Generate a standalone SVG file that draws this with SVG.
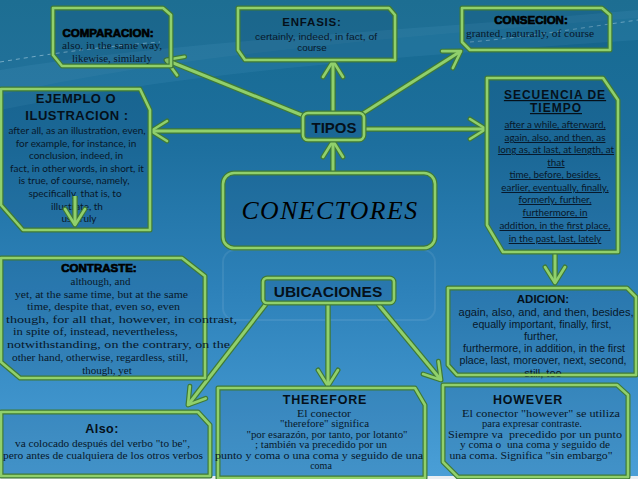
<svg xmlns="http://www.w3.org/2000/svg" width="638" height="479" viewBox="0 0 638 479">
<defs>
<linearGradient id="bg" x1="0" y1="0" x2="0" y2="1">
<stop offset="0" stop-color="#166a8f"/>
<stop offset="0.3" stop-color="#1d6f9e"/>
<stop offset="0.6" stop-color="#2d81b9"/>
<stop offset="1" stop-color="#4a9fd7"/>
</linearGradient>
<marker id="ad" markerUnits="userSpaceOnUse" viewBox="-22 -14 26 28" refX="0" refY="0" markerWidth="26" markerHeight="28" orient="auto">
<path d="M-16,-10 L0,0 L-16,10" fill="none" stroke="#3f7a35" stroke-width="5" stroke-linecap="round" stroke-linejoin="round"/>
</marker>
<marker id="al" markerUnits="userSpaceOnUse" viewBox="-22 -14 26 28" refX="0" refY="0" markerWidth="26" markerHeight="28" orient="auto">
<path d="M-16,-10 L0,0 L-16,10" fill="none" stroke="#90d06c" stroke-width="2.6" stroke-linecap="round" stroke-linejoin="round"/>
</marker>
<style>
.bo{fill:rgba(10,40,80,0.10);stroke:#3f7a35;stroke-width:5;stroke-linejoin:round}
.bi{fill:none;stroke:#90d06c;stroke-width:2.6;stroke-linejoin:round}
.cd{fill:none;stroke:#3f7a35;stroke-width:5.5;marker-end:url(#ad)}
.cl{fill:none;stroke:#90d06c;stroke-width:3;marker-end:url(#al)}
.hv{font-family:"Liberation Sans",Arial,sans-serif;font-weight:bold;fill:#000;stroke:#000;stroke-width:0.7;text-anchor:middle}
.hb{font-family:"Liberation Sans",Arial,sans-serif;font-weight:bold;fill:#05101a;text-anchor:middle}
.sr{font-family:"Liberation Serif","Times New Roman",serif;fill:#08182a;text-anchor:middle}
.ca{font-family:Lato,"Liberation Sans",sans-serif;fill:#08182a;text-anchor:middle}
.ar{font-family:"Liberation Sans",Arial,sans-serif;fill:#08182a;text-anchor:middle}
.u{text-decoration:underline}
</style>
</defs>
<rect x="0" y="0" width="638" height="479" fill="url(#bg)"/>
<path d="M0,95 C150,60 350,40 638,18 L638,0 L0,0 Z" fill="#ffffff" opacity="0.03"/>
<path d="M0,70 C180,40 420,30 638,10 L638,40 C420,55 200,70 0,110 Z" fill="#5fb0d8" opacity="0.12"/>
<path d="M0,62 C60,52 110,46 160,42" fill="none" stroke="#cfe8f4" stroke-width="0.8" stroke-dasharray="4,4" opacity="0.6"/>
<path d="M470,42 C520,38 580,28 638,20" fill="none" stroke="#cfe8f4" stroke-width="0.8" stroke-dasharray="4,4" opacity="0.5"/>
<rect x="223" y="250" width="212" height="70" rx="12" fill="none" stroke="#ffffff" stroke-width="2" opacity="0.08"/>
<rect x="0" y="476" width="638" height="3" fill="#e9eef2"/>

<g id="connectors">
<path class="cd" d="M304,116 L166,60"/><path class="cl" d="M304,116 L166,60"/>
<path class="cd" d="M333,113 L333,61"/><path class="cl" d="M333,113 L333,61"/>
<path class="cd" d="M362,114 L461,51"/><path class="cl" d="M362,114 L461,51"/>
<path class="cd" d="M303,131 L151,131"/><path class="cl" d="M303,131 L151,131"/>
<path class="cd" d="M364,129 L486,129"/><path class="cl" d="M364,129 L486,129"/>
<path class="cd" d="M333,172 L333,141"/><path class="cl" d="M333,172 L333,141"/>
<path class="cd" d="M555,252 L555,283"/><path class="cl" d="M555,252 L555,283"/>
<path class="cd" d="M266,304 L188,405"/><path class="cl" d="M266,304 L188,405"/>
<path class="cd" d="M328,304 L328,386"/><path class="cl" d="M328,304 L328,386"/>
<path class="cd" d="M378,304 L441,380"/><path class="cl" d="M378,304 L441,380"/>
</g>

<g id="comparacion">
<path class="bo" d="M53,8 L163,8 L171,15 L171,66 L62,66 L53,55 Z"/>
<text class="sr" x="112" y="49" font-size="11" textLength="100" lengthAdjust="spacingAndGlyphs">also, in the same way,</text>
<text class="sr" x="112" y="62" font-size="11" textLength="80" lengthAdjust="spacingAndGlyphs">likewise, similarly</text>
<path class="bi" d="M53,8 L163,8 L171,15 L171,66 L62,66 L53,55 Z"/>
<text class="hv" x="108" y="37" font-size="11.5">COMPARACION:</text>
</g>

<g id="enfasis">
<path class="bo" d="M238,8 L389,8 L395,15 L395,60 L245,60 L238,50 Z"/>
<path class="bi" d="M238,8 L389,8 L395,15 L395,60 L245,60 L238,50 Z"/>
<text class="hb" x="312" y="26" font-size="11.5" letter-spacing="0.8">ENFASIS:</text>
<text class="ar" x="316" y="40" font-size="9.8" textLength="122" lengthAdjust="spacingAndGlyphs">certainly, indeed, in fact, of</text>
<text class="ar" x="312" y="51" font-size="9.8">course</text>
</g>

<g id="consecion">
<path class="bo" d="M462,8 L602,8 L610,15 L610,50 L470,50 L462,42 Z"/>
<path class="bi" d="M462,8 L602,8 L610,15 L610,50 L470,50 L462,42 Z"/>
<text class="hv" x="531" y="24" font-size="11.5">CONSECION:</text>
<text class="sr" x="530" y="37" font-size="11" textLength="128" lengthAdjust="spacingAndGlyphs">granted, naturally, of course</text>
</g>

<g id="ejemplo">
<path class="bo" d="M1,89 L140,89 L150,110 L150,230 L23,230 L1,205 Z"/>
<path class="bi" d="M1,89 L140,89 L150,110 L150,230 L23,230 L1,205 Z"/>
<text class="hb" x="76" y="103" font-size="13" letter-spacing="0.5">EJEMPLO O</text>
<text class="hb" x="77" y="120" font-size="13" letter-spacing="0.5">ILUSTRACION :</text>
<text class="ca" x="77" y="134" font-size="10">after all, as an illustration, even,</text>
<text class="ca" x="76" y="147" font-size="10">for example, for instance, in</text>
<text class="ca" x="76" y="159" font-size="10">conclusion, indeed, in</text>
<text class="ca" x="77" y="172" font-size="10">fact, in other words, in short, it</text>
<text class="ca" x="74" y="184" font-size="10">is true, of course, namely,</text>
<text class="ca" x="75" y="197" font-size="10">specifically, that is, to</text>
<text class="ca" x="77" y="210" font-size="10">illustrate, th</text>
<text class="ca" x="79" y="222" font-size="10">us, truly</text>
<path d="M75,196 L75,225" fill="none" stroke="#3f7a35" stroke-width="5.5" marker-end="url(#ad)"/>
<path d="M75,196 L75,225" fill="none" stroke="#90d06c" stroke-width="3" marker-end="url(#al)"/>
</g>

<g id="tipos">
<rect x="303" y="113" width="61" height="27" rx="5" class="bo"/>
<rect x="303" y="113" width="61" height="27" rx="5" class="bi"/>
<text class="hb" x="334" y="133" font-size="15">TIPOS</text>
</g>

<g id="secuencia">
<path class="bo" d="M487,78 L603,78 L618,100 L618,252 L503,252 L487,225 Z"/>
<path class="bi" d="M487,78 L603,78 L618,100 L618,252 L503,252 L487,225 Z"/>
<text class="hb u" x="555" y="99" font-size="12" letter-spacing="1">SECUENCIA DE</text>
<text class="hb u" x="556" y="112" font-size="12" letter-spacing="1">TIEMPO</text>
<text class="ca u" x="555" y="128" font-size="9.8">after a while, afterward,</text>
<text class="ca u" x="555" y="141" font-size="9.8">again, also, and then, as</text>
<text class="ca u" x="556" y="153" font-size="9.8">long as, at last, at length, at</text>
<text class="ca u" x="556" y="166" font-size="9.8">that</text>
<text class="ca u" x="555" y="178" font-size="9.8">time, before, besides,</text>
<text class="ca u" x="555" y="191" font-size="9.8">earlier, eventually, finally,</text>
<text class="ca u" x="555" y="203" font-size="9.8">formerly, further,</text>
<text class="ca u" x="555" y="216" font-size="9.8">furthermore, in</text>
<text class="ca u" x="555" y="229" font-size="9.8">addition, in the first place,</text>
<text class="ca u" x="555" y="242" font-size="9.8">in the past, last, lately</text>
</g>

<g id="conectores">
<rect x="223" y="173" width="212" height="75" rx="11" class="bo"/>
<rect x="223" y="173" width="212" height="75" rx="11" class="bi"/>
<text x="330" y="219" font-family="'Liberation Serif','Times New Roman',serif" font-style="italic" font-size="26" letter-spacing="1.5" fill="#000" text-anchor="middle" textLength="177" lengthAdjust="spacingAndGlyphs">CONECTORES</text>
</g>

<g id="contraste">
<path class="bo" d="M1,258 L182,258 L205,276 L205,378 L20,378 L1,362 Z"/>
<path class="bi" d="M1,258 L182,258 L205,276 L205,378 L20,378 L1,362 Z"/>
<text class="hv" x="99" y="272" font-size="11.5">CONTRASTE:</text>
<text class="sr" x="100.5" y="285" font-size="11">although, and</text>
<text class="sr" x="101.5" y="298" font-size="11" textLength="173" lengthAdjust="spacingAndGlyphs">yet, at the same time, but at the same</text>
<text class="sr" x="103.5" y="310" font-size="11" textLength="153" lengthAdjust="spacingAndGlyphs">time, despite that, even so, even</text>
<text class="sr" x="121.5" y="323" font-size="11" textLength="231" lengthAdjust="spacingAndGlyphs">though, for all that, however, in contrast,</text>
<text class="sr" x="95.5" y="335" font-size="11" textLength="165" lengthAdjust="spacingAndGlyphs">in spite of, instead, nevertheless,</text>
<text class="sr" x="118.5" y="348" font-size="11" textLength="223" lengthAdjust="spacingAndGlyphs">notwithstanding, on the contrary, on the</text>
<text class="sr" x="100" y="361" font-size="11" textLength="176" lengthAdjust="spacingAndGlyphs">other hand, otherwise, regardless, still,</text>
<text class="sr" x="107" y="374" font-size="11">though, yet</text>
</g>

<g id="ubicaciones">
<rect x="263" y="278" width="131" height="25" rx="4" class="bo"/>
<rect x="263" y="278" width="131" height="25" rx="4" class="bi"/>
<text class="hb" x="328" y="297" font-size="15.5">UBICACIONES</text>
</g>

<g id="adicion">
<path class="bo" d="M448,288 L627,288 L636,297 L636,375 L457,375 L448,365 Z"/>
<text class="ar" x="543" y="377" font-size="11">still, too</text>
<path class="bi" d="M448,288 L627,288 L636,297 L636,375 L457,375 L448,365 Z"/>
<text class="hb" x="543" y="303" font-size="11.5">ADICION:</text>
<text class="ar" x="546" y="316" font-size="11" textLength="175" lengthAdjust="spacingAndGlyphs">again, also, and, and then, besides,</text>
<text class="ar" x="542" y="328" font-size="11" textLength="139" lengthAdjust="spacingAndGlyphs">equally important, finally, first,</text>
<text class="ar" x="541" y="340" font-size="11">further,</text>
<text class="ar" x="544" y="352" font-size="11" textLength="162" lengthAdjust="spacingAndGlyphs">furthermore, in addition, in the first</text>
<text class="ar" x="543" y="364" font-size="11" textLength="167" lengthAdjust="spacingAndGlyphs">place, last, moreover, next, second,</text>
</g>

<g id="also">
<path class="bo" d="M1,412 L198,412 L210,425 L210,476 L1,476 Z"/>
<path class="bi" d="M1,412 L198,412 L210,425 L210,476 L1,476 Z"/>
<text class="hb" x="102" y="433" font-size="12.5" letter-spacing="0.5">Also:</text>
<text class="sr" x="102.5" y="447" font-size="11" textLength="175" lengthAdjust="spacingAndGlyphs">va colocado después del verbo "to be",</text>
<text class="sr" x="103" y="459" font-size="11" textLength="200" lengthAdjust="spacingAndGlyphs">pero antes de cualquiera de los otros verbos</text>
</g>

<g id="therefore">
<path class="bo" d="M218,388 L415,388 L425,405 L425,478 L218,478 Z"/>
<path class="bi" d="M218,388 L415,388 L425,405 L425,478 L218,478 Z"/>
<text class="hb" x="325" y="404" font-size="12.5" letter-spacing="0.8">THEREFORE</text>
<text class="sr" x="324" y="416.5" font-size="10" textLength="54" lengthAdjust="spacingAndGlyphs">El conector</text>
<text class="sr" x="324.5" y="427" font-size="10" textLength="89" lengthAdjust="spacingAndGlyphs">"therefore" significa</text>
<text class="sr" x="327" y="437.5" font-size="10" textLength="161" lengthAdjust="spacingAndGlyphs">"por esarazón, por tanto, por lotanto"</text>
<text class="sr" x="321" y="448" font-size="10" textLength="132" lengthAdjust="spacingAndGlyphs">; también va precedido por un</text>
<text class="sr" x="319" y="458.5" font-size="10" textLength="208" lengthAdjust="spacingAndGlyphs">punto y coma o una coma y seguido de una</text>
<text class="sr" x="321" y="469" font-size="10">coma</text>
</g>

<g id="however">
<path class="bo" d="M443,385 L617,385 L628,395 L628,477 L458,477 L443,462 Z"/>
<path class="bi" d="M443,385 L617,385 L628,395 L628,477 L458,477 L443,462 Z"/>
<text class="hb" x="528" y="404" font-size="12.5" letter-spacing="0.8">HOWEVER</text>
<text class="sr" x="541" y="416.5" font-size="10" textLength="158" lengthAdjust="spacingAndGlyphs">El conector "however" se utiliza</text>
<text class="sr" x="532" y="427" font-size="10" textLength="100" lengthAdjust="spacingAndGlyphs">para expresar contraste.</text>
<text class="sr" x="535" y="437.5" font-size="10" textLength="174" lengthAdjust="spacingAndGlyphs" xml:space="preserve">Siempre va  precedido por un punto</text>
<text class="sr" x="535" y="448" font-size="10" textLength="150" lengthAdjust="spacingAndGlyphs" xml:space="preserve">y coma o  una coma y seguido de</text>
<text class="sr" x="531" y="458.5" font-size="10" textLength="163" lengthAdjust="spacingAndGlyphs">una coma. Significa "sin embargo"</text>
</g>
</svg>
